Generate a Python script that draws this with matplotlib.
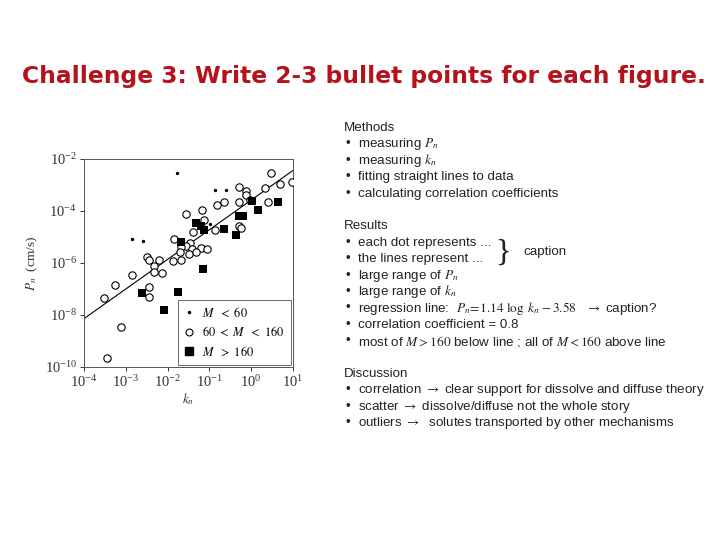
import numpy as np
import matplotlib
matplotlib.use("Agg")
import matplotlib.pyplot as plt
from matplotlib.lines import Line2D

plt.rcParams['font.family'] = ['Liberation Sans', 'DejaVu Sans']
plt.rcParams['mathtext.fontset'] = 'stix'

# log10 values
logk_small = [-1.77, -0.87, -0.60, -2.86, -2.60, -0.98]
logP_small = [-2.54, -3.21, -3.21, -5.06, -5.15, -4.50]

logk_mid = [0.47, 0.98, 0.70, 0.33, -0.30, -0.13, -0.13, -0.04, -0.29, -0.65,
            -0.81, 0.39, -1.17, -1.57, -1.14, -1.39, -0.87, -0.30, -0.25, -1.84,
            -1.47, -1.55, -1.67, -1.41, -1.21, -1.05, -1.70, -1.49, -1.31, -1.69,
            -1.87, -2.49, -2.45, -2.21, -2.33, -2.33, -2.14, -2.86, -3.26, -3.51,
            -2.45, -2.45, -3.12, -3.46]
logP_mid = [-2.54, -2.87, -2.97, -3.10, -3.06, -3.22, -3.39, -3.56, -3.67, -3.67,
            -3.76, -3.67, -3.95, -4.10, -4.33, -4.82, -4.72, -4.59, -4.67, -5.06,
            -5.23, -5.36, -5.40, -5.46, -5.42, -5.46, -5.59, -5.65, -5.59, -5.87,
            -5.94, -5.77, -5.87, -5.87, -6.10, -6.36, -6.38, -6.45, -6.85, -7.36,
            -6.94, -7.32, -8.45, -9.64]

logk_big = [0.03, 0.64, 0.16, -0.29, -0.20, -1.31, -1.19, -1.14, -0.66, -0.37,
            -1.69, -1.15, -1.76, -2.62, -2.09]
logP_big = [-3.60, -3.64, -3.96, -4.21, -4.21, -4.46, -4.59, -4.74, -4.69, -4.94,
            -5.21, -6.23, -7.13, -7.15, -7.82]

# regression line: log Pn = 1.14 log kn - 3.58
slope = 1.14
intercept = -3.58
line_k = [1e-4, 1e1]

title = "Challenge 3: Write 2-3 bullet points for each figure."

lines = [
    ("head", "Methods"),
    ("item", r"measuring $P_n$"),
    ("item", r"measuring $k_n$"),
    ("item", "fitting straight lines to data"),
    ("item", "calculating correlation coefficients"),
    ("blank", ""),
    ("head", "Results"),
    ("item", "each dot represents ..."),
    ("item", "the lines represent ..."),
    ("item", r"large range of $P_n$"),
    ("item", r"large range of $k_n$"),
    ("item", r"regression line:  $P_n\!=\!1.14\ \log\ k_n - 3.58\quad\rightarrow$ caption?"),
    ("item", "correlation coefficient = 0.8"),
    ("item", r"most of $M > 160$ below line ; all of $M < 160$ above line"),
    ("blank", ""),
    ("head", "Discussion"),
    ("item", r"correlation $\rightarrow$ clear support for dissolve and diffuse theory"),
    ("item", r"scatter $\rightarrow$ dissolve/diffuse not the whole story"),
    ("item", r"outliers $\rightarrow$  solutes transported by other mechanisms"),
]

W, H = 720, 540
fig = plt.figure(figsize=(7.2, 5.4), dpi=100)
fig.patch.set_facecolor('white')

fig.text(364 / W, 1 - 77 / H, title, ha='center', va='center', fontsize=16.8,
         fontweight='bold', color='#B5121B', family='DejaVu Sans')

ax = fig.add_axes([84 / W, 1 - 367 / H, (293 - 84) / W, (367 - 159) / H])
ax.set_xscale('log')
ax.set_yscale('log')
ax.set_xlim(1e-4, 1e1)
ax.set_ylim(1e-10, 1e-2)

kx = np.array(line_k)
ax.plot(kx, 10 ** (slope * np.log10(kx) + intercept), color='black', lw=0.8)

ax.scatter(10 ** np.array(logk_mid), 10 ** np.array(logP_mid), s=28,
           facecolors='white', edgecolors='black', linewidths=0.8, zorder=3)
ax.scatter(10 ** np.array(logk_big), 10 ** np.array(logP_big), s=30, marker='s',
           color='black', linewidths=0, zorder=4)
ax.scatter(10 ** np.array(logk_small), 10 ** np.array(logP_small), s=2,
           color='black', zorder=5)

ax.set_xticks([1e-4, 1e-3, 1e-2, 1e-1, 1e0, 1e1])
ax.set_yticks([1e-10, 1e-8, 1e-6, 1e-4, 1e-2])
ax.minorticks_off()
ax.tick_params(direction='out', length=3, width=0.7, labelsize=10.5,
               colors='#333333', pad=2)
for lab in ax.get_xticklabels() + ax.get_yticklabels():
    lab.set_family('Liberation Serif')
for sp in ax.spines.values():
    sp.set_linewidth(0.7)
    sp.set_color('#555555')

ax.set_xlabel(r'$k_n$', fontsize=9.5, labelpad=1, color='#333333')
ax.set_ylabel(r'$P_n$  (cm/s)', fontsize=9.5, labelpad=3, color='#333333',
              family='Liberation Serif')

handles = [
    Line2D([], [], ls='none', marker='o', ms=1.5, color='black'),
    Line2D([], [], ls='none', marker='o', ms=5, mfc='white', mec='black', mew=0.8),
    Line2D([], [], ls='none', marker='s', ms=5.5, color='black'),
]
labels = [r'$M\ \ <\ 60$', r'$60\ <\ M\ \ <\ 160$', r'$M\ \ >\ 160$']
leg = ax.legend(handles, labels, loc='lower right', fontsize=9, frameon=True,
                fancybox=False, edgecolor='#444444', handlelength=0.8,
                handletextpad=0.6, borderaxespad=0.2, labelspacing=0.45,
                borderpad=0.5)
leg.get_frame().set_linewidth(0.7)

# right-hand text
fs = 9.6
y0 = 128
dy = 16.4
for i, (kind, txt) in enumerate(lines):
    y = 1 - (y0 + i * dy) / H
    if kind == "head":
        fig.text(344 / W, y, txt, ha='left', va='center', fontsize=fs, color='#222222')
    elif kind == "item":
        fig.text(348 / W, y, u"\u2022", ha='center', va='center', fontsize=fs,
                 color='#222222')
        fig.text(358 / W, y, txt, ha='left', va='center', fontsize=fs,
                 color='#222222')

# brace + caption for the two caption lines
fig.text(503 / W, 1 - 253 / H, "}", ha='center', va='center', fontsize=23,
         family='Liberation Serif', color='#222222')
fig.text(523 / W, 1 - 252 / H, "caption", ha='left', va='center', fontsize=fs,
         color='#222222')

fig.savefig('out.png', dpi=100)
